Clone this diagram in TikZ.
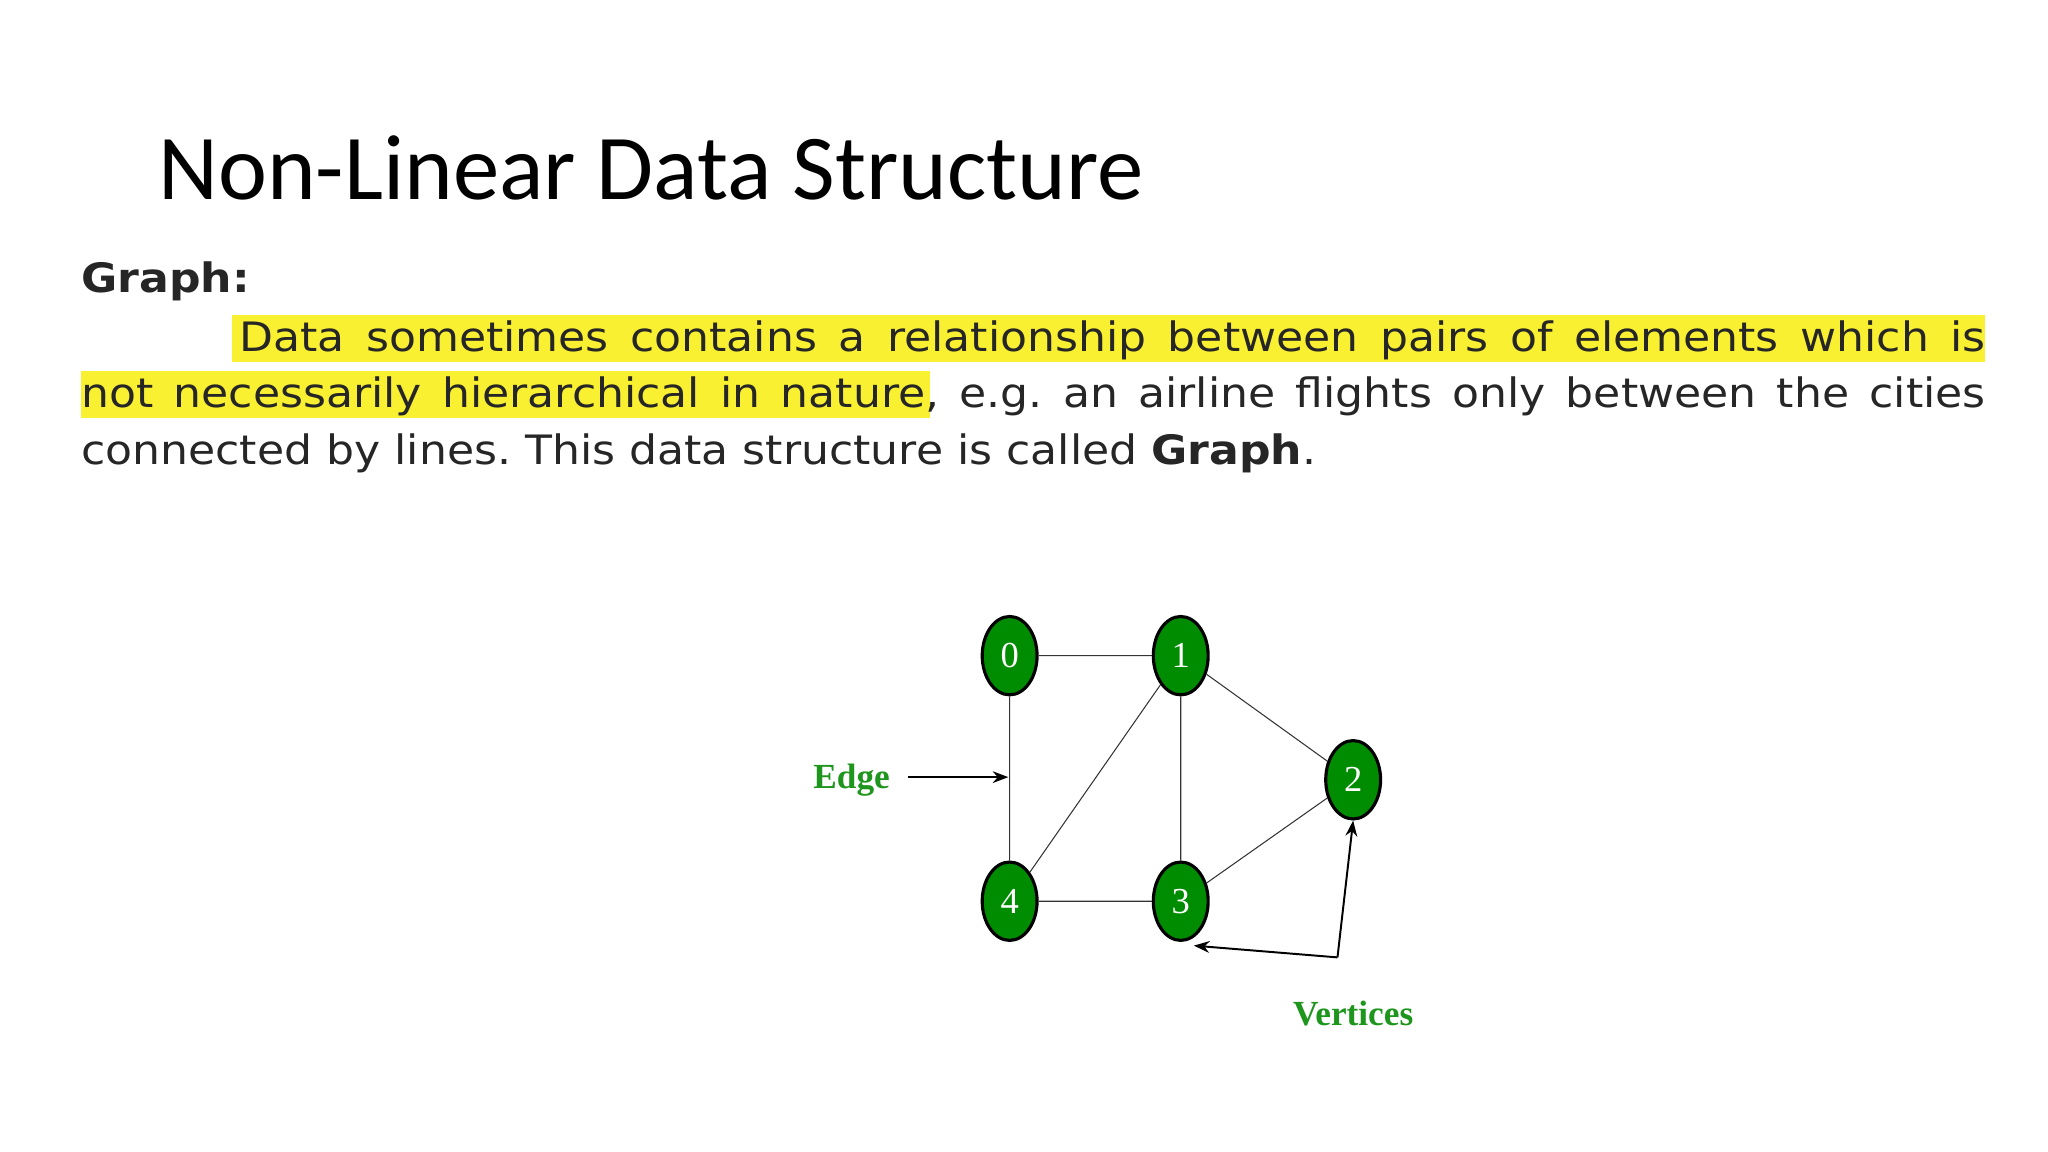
\documentclass[tikz,border=0pt]{standalone}
\usepackage{fontspec}
\setmainfont{Carlito}
\newfontfamily\bodyf[FakeStretch=1.09]{DejaVu Sans}
\newfontfamily\grf{Liberation Serif}
\definecolor{hl}{RGB}{250,240,50}
\definecolor{vg}{RGB}{0,140,0}
\definecolor{lg}{RGB}{30,150,30}
\tikzset{
  vtx/.style={ellipse,draw=black,line width=2.4pt,fill=vg,minimum width=42pt,minimum height=60pt,inner sep=0pt,text=white,font=\grf\fontsize{28}{28}\selectfont},
  edg/.style={draw=black!80,line width=0.8pt},
  lbl/.style={text=lg,font=\grf\bfseries\fontsize{27}{27}\selectfont},
  body/.style={anchor=base west,inner sep=0pt,font=\bodyf\fontsize{31}{36}\selectfont\frenchspacing,text=black!85}
}
\usetikzlibrary{shapes.geometric,arrows.meta}
\begin{document}
\begin{tikzpicture}[x=1pt,y=-1pt]
\useasboundingbox[fill=white] (0,0) rectangle (1568,882);
\node[anchor=base west,inner sep=0pt,font=\fontsize{71}{71}\selectfont] (title) at (121,153) {Non-Linear Data Structure};
\fill[hl] (178,241) rectangle (1520,277);
\fill[hl] (62,284) rectangle (712,320);
\node[body] (g) at (62,224) {\bfseries Graph:};
\node[body] (l1) at (183,269) {\makebox[1337pt][s]{Data sometimes contains a relationship between pairs of elements which is}};
\node[body] (l2) at (62,312) {\makebox[1458pt][s]{not necessarily hierarchical in nature, e.g. an airline flights only between the cities}};
\node[body] (l3) at (62,356) {connected by lines. This data structure is called \textbf{Graph}.};
\node[vtx] (n0) at (773,502) {0};
\node[vtx] (n1) at (904,502) {1};
\node[vtx] (n2) at (1036,597) {2};
\node[vtx] (n3) at (904,690) {3};
\node[vtx] (n4) at (773,690) {4};
\draw[edg] (n0)--(n1) (n0)--(n4) (n4)--(n3) (n1)--(n3) (n1)--(n4) (n1)--(n2) (n3)--(n2);
\node[lbl] (edge) at (652,597) {Edge};
\coordinate (ea) at (695,595);
\coordinate (eb) at (772,595);
\draw[-{Stealth[length=12pt]},line width=1.5pt] (ea)--(eb);
\node[lbl] (vert) at (1036,776) {Vertices};
\coordinate (c) at (1024,733);
\draw[-{Stealth[length=12pt]},line width=1.5pt] (c)--(n2.south);
\draw[-{Stealth[length=12pt]},line width=1.5pt] (c)--(914,724);
\end{tikzpicture}
\end{document}
